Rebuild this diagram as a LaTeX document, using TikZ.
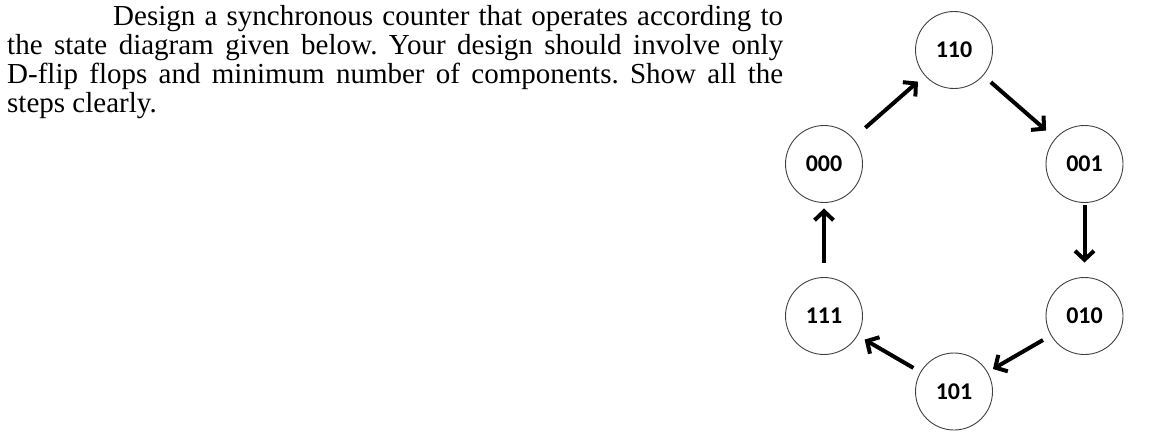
\documentclass[tikz,border=0pt]{standalone}
\usepackage{fontspec}
\setmainfont{Liberation Serif}
\newfontfamily\statefont{Carlito}
\usepackage{tikz}
\usetikzlibrary{arrows.meta,positioning}
\frenchspacing
\tikzset{
    %Define standard arrow tip
    >={Straight Barb[length=9pt,width=19pt,line width=4pt]},
    %Define style for states
    state/.style={
           circle,
           draw=black!75,
           line width=0.9pt,
           minimum size=77pt,
           inner sep=0pt,
           font=\statefont\bfseries\fontsize{24}{24}\selectfont},
    % Define arrow style
    arrow/.style={
           ->,
           line width=4pt,
           shorten <=9pt,
           shorten >=9pt,
           },
    % Define style for the question
    question/.style={
           anchor=north west,
           inner sep=0pt,
           text width=776pt,
           align=justify,
           font=\fontsize{29}{29}\selectfont}
}

\begin{document}
\begin{tikzpicture}[x=1pt, y=-1pt]
    \useasboundingbox (0,0) rectangle (1175,441);
    \node [question] (task) at (7,5.2) {\hspace*{106pt}Design a synchronous counter that operates according to\linebreak
    the state diagram given below. Your design should involve only\linebreak
    D-flip flops and minimum number of components. Show all the\linebreak
    steps clearly.};

    \node [state] (s110) at (954,50) {110};
    \node [state] (s000) at (824,164) {000};
    \node [state] (s001) at (1084.5,164) {001};
    \node [state] (s111) at (824,316) {111};
    \node [state] (s010) at (1084.5,316) {010};
    \node [state] (s101) at (954,391.5) {101};

	\path[->] (s000) edge[arrow, shorten <=16pt, shorten >=9pt] (s110);
	\path[->] (s110) edge[arrow, shorten <=10pt, shorten >=12pt] (s001);
	\path[->] (s001) edge[arrow, shorten <=2.5pt, shorten >=14.5pt] (s010);
	\path[->] (s010) edge[arrow, shorten <=9pt, shorten >=6pt] (s101);
	\path[->] (s101) edge[arrow, shorten <=8pt, shorten >=8pt] (s111);
	\path[->] (s111) edge[arrow, shorten <=14.5pt, shorten >=5.5pt] (s000);
\end{tikzpicture}
\end{document}
